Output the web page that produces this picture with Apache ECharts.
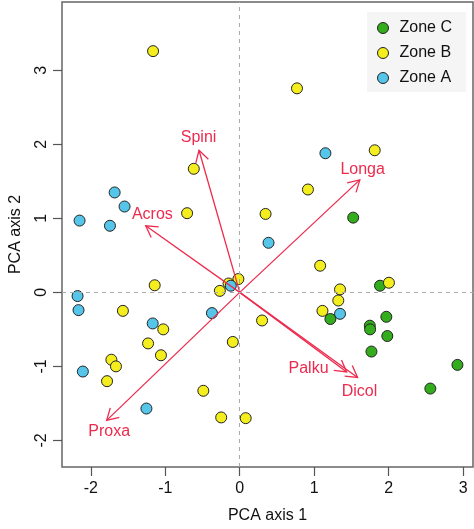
<!DOCTYPE html>
<html><head><meta charset="utf-8">
<script src="https://cdn.jsdelivr.net/npm/echarts@6/dist/echarts.min.js"></script>
<style>html,body{margin:0;padding:0;background:#fff}#c{width:474px;height:529px}</style>
</head><body><div id="c"></div>
<script>
var zoneC = [[1.524,1.01],[1.218,-0.36],[1.884,0.09],[1.969,-0.33],[1.747,-0.45],[1.751,-0.50],[1.982,-0.59],[1.769,-0.80],[2.924,-0.98],[2.56,-1.30]];
var zoneB = [[-1.164,3.26],[-0.617,1.67],[-0.707,1.07],[0.769,2.757],[1.813,1.92],[0.916,1.39],[0.347,1.06],[1.08,0.36],[-1.142,0.096],[-1.569,-0.25],[-1.027,-0.50],[-1.231,-0.69],[-1.058,-0.85],[-1.724,-0.91],[-1.662,-1.0],[-1.782,-1.20],[-0.489,-1.33],[-0.249,-1.69],[-0.093,-0.67],[-0.267,0.02],[0.08,-1.70],[-0.018,0.18],[-0.15,0.12],[0.30,-0.38],[1.347,0.04],[1.324,-0.11],[1.111,-0.25],[2.004,0.13]];
var zoneA = [[-1.68,1.35],[-1.547,1.16],[-2.151,0.97],[-1.743,0.90],[1.151,1.88],[0.387,0.67],[-2.178,-0.05],[-2.165,-0.24],[-1.169,-0.42],[-2.107,-1.07],[-1.253,-1.57],[-0.373,-0.28],[-0.12,0.09],[1.347,-0.29]];
var arrowNames = ['Spini','Acros','Longa','Proxa','Palku','Dicol'];
var arrowX = [-0.547,-1.262,1.613,-1.787,1.436,1.583];
var arrowY = [1.92,0.90,1.52,-1.73,-1.076,-1.15];
var labelX = [-0.553,-1.173,1.651,-1.753,0.924,1.609];
var labelY = [2.088,1.05,1.655,-1.888,-1.027,-1.344];
var ticks = [-2,-1,0,1,2,3];
var yTicks = [-2,-1,0,1,2,3];

var RED = '#ee2a4e';
var arrowData = arrowNames.map(function(n,i){return [arrowX[i],arrowY[i],n];});
var labelData = arrowNames.map(function(n,i){return [labelX[i],labelY[i],n];});

var chart = echarts.init(document.getElementById('c'));
var font = 'Liberation Sans, Arial, sans-serif';
function pts(name, data, color){
  return {name:name, type:'scatter', data:data, symbol:'circle', symbolSize:11, z:3,
    itemStyle:{color:color, borderColor:'#222', borderWidth:1, opacity:1}};
}
chart.setOption({
  animation:false,
  textStyle:{fontFamily:font},
  grid:{left:59,right:1,top:2,bottom:57,show:true,borderColor:'#666',borderWidth:1.5,backgroundColor:'transparent'},
  legend:{data:['Zone C','Zone B','Zone A'], orient:'vertical', left:367, top:12,
    padding:[8,14,6,10], itemWidth:11, itemHeight:11, itemGap:9, backgroundColor:'#f5f5f5',
    icon:'circle', textStyle:{fontSize:16, color:'#111', fontFamily:font, padding:[0,0,0,6]},
    itemStyle:{borderColor:'#222', borderWidth:1}},
  xAxis:{type:'value', min:-2.387, max:3.133, name:'PCA axis 1', nameLocation:'middle', nameGap:41,
    nameTextStyle:{fontSize:16, color:'#111', fontFamily:font},
    axisLine:{show:false, onZero:false}, splitLine:{show:false},
    axisTick:{show:true, inside:false, length:9, customValues:ticks, lineStyle:{color:'#555',width:1.2}},
    axisLabel:{customValues:ticks, fontSize:16, color:'#111', margin:14, fontFamily:font}},
  yAxis:{type:'value', min:-2.36, max:3.924, name:'PCA axis 2', nameLocation:'middle', nameGap:38,
    nameTextStyle:{fontSize:16, color:'#111', fontFamily:font},
    axisLine:{show:false, onZero:false}, splitLine:{show:false},
    axisTick:{show:true, inside:false, length:9, customValues:yTicks, lineStyle:{color:'#555',width:1.2}},
    axisLabel:{customValues:yTicks, fontSize:16, color:'#111', margin:12, rotate:90, fontFamily:font}},
  series:[
    {type:'scatter', data:[], z:1, silent:true,
      markLine:{silent:true, symbol:['none','none'], label:{show:false},
        lineStyle:{type:[4,4], color:'#aaa', width:1},
        data:[{xAxis:0},{yAxis:0}]}},
    pts('Zone C', zoneC, '#33ad1c'),
    pts('Zone B', zoneB, '#f4ee1e'),
    pts('Zone A', zoneA, '#55c6ea'),
    {type:'custom', data:arrowData, z:4, silent:true, clip:false,
      renderItem:function(params, api){
        var o = api.coord([0,0]);
        var t = api.coord([api.value(0), api.value(1)]);
        var dx=t[0]-o[0], dy=t[1]-o[1], L=Math.sqrt(dx*dx+dy*dy), ux=dx/L, uy=dy/L;
        var h=13, a=Math.PI/6, c=Math.cos(a), s=Math.sin(a);
        var w1=[t[0]-h*(ux*c-uy*s), t[1]-h*(uy*c+ux*s)];
        var w2=[t[0]-h*(ux*c+uy*s), t[1]-h*(uy*c-ux*s)];
        return {type:'group', children:[
          {type:'line', shape:{x1:o[0],y1:o[1],x2:t[0],y2:t[1]}, style:{stroke:RED, lineWidth:1.3}},
          {type:'polyline', shape:{points:[w1,t,w2]}, style:{stroke:RED, fill:null, lineWidth:1.3}}
        ]};
      }},
    {type:'custom', data:labelData, z:5, silent:true, clip:false,
      renderItem:function(params, api){
        var p = api.coord([api.value(0), api.value(1)]);
        return {type:'text', x:p[0], y:p[1], style:{text:arrowNames[params.dataIndex], fill:RED,
          font:'16px '+font, align:'center', verticalAlign:'middle'}};
      }}
  ]
});
</script></body></html>
